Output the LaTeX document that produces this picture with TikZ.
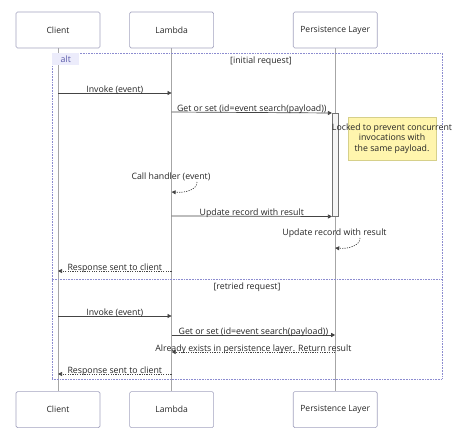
\documentclass[tikz,border=0pt]{standalone}
\usepackage{fontspec}
\setmainfont{Open Sans}
\usetikzlibrary{arrows.meta,positioning,backgrounds}
\definecolor{actorEdge}{HTML}{A3A3BF}
\definecolor{lifeGrey}{HTML}{A6A6A6}
\definecolor{msgGrey}{HTML}{444444}
\definecolor{frameBlue}{HTML}{8C8CD0}
\definecolor{tabFill}{HTML}{ECECFB}
\definecolor{tabText}{HTML}{5A5AAA}
\definecolor{noteFill}{HTML}{FFF5AD}
\definecolor{noteEdge}{HTML}{D6D08A}
\tikzset{
  actor/.style={draw=actorEdge, fill=white, rounded corners=1.5pt, line width=.6pt,
    minimum width=84bp, minimum height=36bp, font=\fontsize{8.6}{10}\selectfont, text=black!85},
  lifeline/.style={draw=lifeGrey, line width=.7pt},
  msg/.style={-{Triangle[length=4bp,width=4bp]}, line width=.7pt, draw=msgGrey},
  reply/.style={msg, dash pattern=on 1.2pt off 1.2pt},
  msgtext/.style={font=\fontsize{8.8}{10}\selectfont, text=black!85, anchor=base, inner sep=0pt},
  activation/.style={draw=black!55, fill=black!4, line width=.5pt, minimum width=6bp,
    minimum height=103bp, inner sep=0pt},
  altframe/.style={draw=frameBlue, dash pattern=on .8pt off .8pt, line width=.8pt},
  tab/.style={fill=tabFill, text=tabText, font=\fontsize{8.8}{10}\selectfont,
    minimum width=27bp, minimum height=12bp, inner sep=0pt},
  guard/.style={font=\fontsize{8.8}{10}\selectfont, text=black!85},
  note/.style={draw=noteEdge, fill=noteFill, line width=.5pt, minimum width=88bp,
    minimum height=43bp, inner sep=0pt},
  notetext/.style={font=\fontsize{8.8}{10.5}\selectfont, text=black!85, align=center}
}

\begin{document}
\begin{tikzpicture}[x=1bp, y=-1bp, node distance=29bp]
  \useasboundingbox (0,0) rectangle (474,442);

  % participants
  \node[actor] (client) at (58,30) {Client};
  \node[actor, right=29bp of client] (lambda) {Lambda};
  \node[actor, right=79bp of lambda] (persist) {Persistence Layer};

  \node[actor, below=343bp of client] (clientB) {Client};
  \node[actor, below=343bp of lambda] (lambdaB) {Lambda};
  \node[actor, below=343bp of persist] (persistB) {Persistence Layer};

  \begin{scope}[on background layer]
    \draw[lifeline] (client) -- (clientB);
    \draw[lifeline] (lambda) -- (lambdaB);
    \draw[lifeline] (persist) -- (persistB);
  \end{scope}

  % alt frame
  \node[altframe, minimum width=390bp, minimum height=326bp, inner sep=0pt] (altbox) at (247,216) {};
  \node[tab, anchor=north west] (alttab) at ([xshift=.5bp,yshift=-.5bp]altbox.north west) {alt};
  \node[guard] (g1) at (261,61) {[initial request]};
  \coordinate (div) at (0,279);
  \draw[altframe] (altbox.west |- div) -- (altbox.east |- div);
  \node[guard] (g2) at (247,287) {[retried request]};

  % message rows
  \coordinate (r1) at (0,93);
  \coordinate (r2) at (0,112);
  \coordinate (r5) at (0,216);
  \coordinate (r7) at (0,271);
  \coordinate (s1) at (0,316);
  \coordinate (s2) at (0,335);
  \coordinate (s3) at (0,352);
  \coordinate (s4) at (0,374);

  \node[activation, anchor=north] (act) at (persist |- 0,113) {};

  % initial request
  \draw[msg] (client |- r1) -- (lambda |- r1)
    node[msgtext, midway, yshift=.5bp] {Invoke (event)};
  \draw[msg] (lambda |- r2) -- (act.north west)
    node[msgtext, midway, yshift=.5bp] {Get or set (id=event search(payload))};

  \node[note] (lock) at (392,138.5) {};
  \node[notetext] (locktext) at (lock) {Locked to prevent concurrent\\invocations with\\the same payload.};

  \node[msgtext] (callh) at (171,180) {Call handler (event)};
  \coordinate (ch1) at (197,182);
  \draw[reply] (ch1) .. controls (197,190) and (185,193) .. (lambda |- 0,192);

  \draw[msg] (lambda |- r5) -- (act.south west)
    node[msgtext, midway, yshift=.5bp] {Update record with result};

  \node[msgtext] (updself) at (334.5,236) {Update record with result};
  \coordinate (us1) at (360,238);
  \draw[reply] (us1) .. controls (360,246) and (348,249) .. (persist |- 0,248);

  \draw[reply] (lambda |- r7) -- (client |- r7)
    node[msgtext, midway, yshift=.5bp] {Response sent to client};

  % retried request
  \draw[msg] (client |- s1) -- (lambda |- s1)
    node[msgtext, midway, yshift=.5bp] {Invoke (event)};
  \draw[msg] (lambda |- s2) -- (persist |- s2)
    node[msgtext, midway, yshift=.5bp] {Get or set (id=event search(payload))};
  \draw[reply] (persist |- s3) -- (lambda |- s3)
    node[msgtext, midway, yshift=.5bp] {Already exists in persistence layer. Return result};
  \draw[reply] (lambda |- s4) -- (client |- s4)
    node[msgtext, midway, yshift=.5bp] {Response sent to client};
\end{tikzpicture}
\end{document}
